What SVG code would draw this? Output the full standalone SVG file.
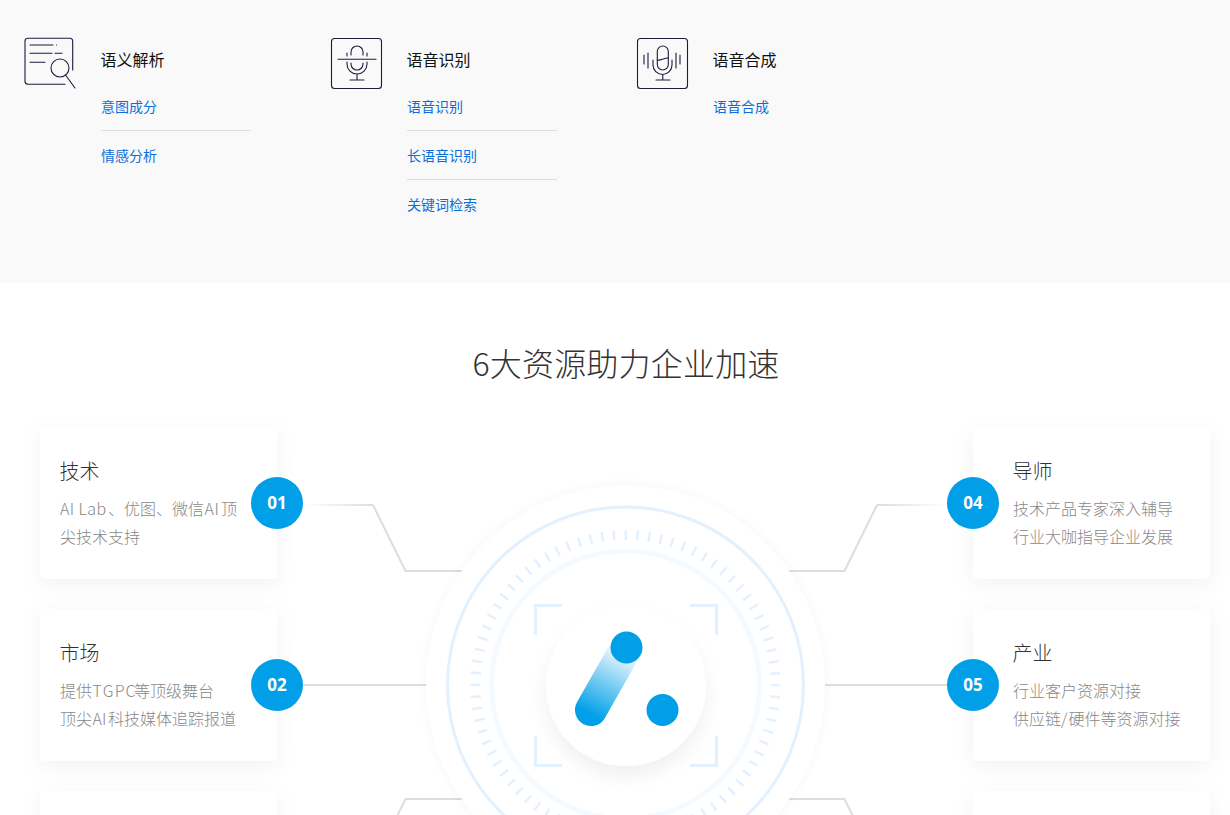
<svg xmlns="http://www.w3.org/2000/svg" width="1230" height="815" viewBox="0 0 1230 815">
<style>
text{font-family:"Noto Sans CJK SC","Noto Sans",sans-serif}
.h{font-size:16px;fill:#111}
.l{font-size:14px;fill:#0b6fdb}
.sep{stroke:#ddd;stroke-width:1;fill:none}
.i{fill:none;stroke:#1c1c3c;stroke-width:1.1;stroke-linecap:round}
.ct{font-size:20px;fill:#333;font-weight:300}
.cd{font-size:16px;fill:#888;font-weight:300}
.card{fill:#fff;filter:url(#cs)}
.num{fill:#009fe8}
.nt{font-family:"Open Sans","Noto Sans",sans-serif;font-size:17px;font-weight:700;fill:#fff;text-anchor:middle}
.cn{fill:none;stroke:#ddd;stroke-width:2}
.br{fill:none;stroke:#e3f1fe;stroke-width:3}
</style>
<defs>
<filter id="cs" x="-20%" y="-20%" width="140%" height="150%"><feDropShadow dx="0" dy="5" stdDeviation="10" flood-color="#000" flood-opacity=".05"/></filter>
<filter id="ds" x="-20%" y="-20%" width="140%" height="140%"><feDropShadow dx="0" dy="0" stdDeviation="5" flood-color="#000" flood-opacity=".04"/></filter>
<filter id="ms" x="-30%" y="-30%" width="160%" height="170%"><feDropShadow dx="0" dy="10" stdDeviation="9" flood-color="#000" flood-opacity=".06"/></filter>
<linearGradient id="gl" gradientUnits="userSpaceOnUse" x1="303" y1="0" x2="373" y2="0"><stop offset="0" stop-color="#ddd" stop-opacity="0"/><stop offset="1" stop-color="#ddd"/></linearGradient>
<linearGradient id="gr" gradientUnits="userSpaceOnUse" x1="947" y1="0" x2="877" y2="0"><stop offset="0" stop-color="#ddd" stop-opacity="0"/><stop offset="1" stop-color="#ddd"/></linearGradient>
<linearGradient id="gp" gradientUnits="userSpaceOnUse" x1="591" y1="715" x2="626" y2="648"><stop offset="0" stop-color="#009fe8"/><stop offset="1" stop-color="#009fe8" stop-opacity="0"/></linearGradient>
</defs>
<rect width="1230" height="815" fill="#fff"/>
<rect id="band" width="1230" height="283" fill="#f9f9f9"/>

<g id="semantic">
<path class="i" d="M65 84.300H28a3 3 0 0 1-3-3V41.300a3 3 0 0 1 3-3H69.700a3 3 0 0 1 3 3V70"/>
<path class="i" d="M30 45H53M56.500 45h.1M30 53.300H52M55 53.300h7M30 62.300H45"/>
<circle class="i" cx="60" cy="68" r="9"/>
<path class="i" d="M65.500 75L75 88"/>
<text class="h" x="100.500" y="66">语义解析</text>
<text class="l" x="101" y="112">意图成分</text>
<path class="sep" d="M101 130.500H251"/>
<text class="l" x="101" y="161">情感分析</text>
</g>

<g id="speech">
<rect class="i" x="331.500" y="38.500" width="50" height="50" rx="3"/>
<path class="i" d="M338 59.300H376"/>
<path class="i" d="M351 55V52a6 6 0 0 1 12 0V55M351 63V64a6 6 0 0 0 12 0V63"/>
<path class="i" d="M347 53V56M367 53V56M347 62V64a10 10 0 0 0 20 0V62M357 74V80M350 80H364"/>
<text class="h" x="406.500" y="66">语音识别</text>
<text class="l" x="407" y="112">语音识别</text>
<path class="sep" d="M407 130.500H557"/>
<text class="l" x="407" y="161">长语音识别</text>
<path class="sep" d="M407 179.500H557"/>
<text class="l" x="407" y="210">关键词检索</text>
</g>

<g id="synth">
<rect class="i" x="637.500" y="38.500" width="50" height="50" rx="3"/>
<rect class="i" x="657.300" y="46" width="11" height="24" rx="5.500"/>
<path class="i" d="M657.300 60C661 61 663 58 668.300 58"/>
<path class="i" d="M653 60V65a9.500 9.500 0 0 0 19 0V60M662.800 74.500V80M656 80H670"/>
<path class="i" d="M644 55V64M648 53V68M676 53V68M680 55V64"/>
<text class="h" x="712.500" y="66">语音合成</text>
<text class="l" x="713" y="112">语音合成</text>
</g>

<text id="title" x="626" y="376" font-size="32" fill="#333" font-weight="300" text-anchor="middle" letter-spacing=".2">6大资源助力企业加速</text>

<g id="connectors">
<path d="M303 505H373" fill="none" stroke="url(#gl)" stroke-width="2"/>
<path class="cn" d="M373 505L405.500 571H470"/>
<path class="cn" d="M303 685H430"/>
<path class="cn" d="M470 799H405.500L373 865"/>
<path d="M947 505H877" fill="none" stroke="url(#gr)" stroke-width="2"/>
<path class="cn" d="M877 505L844.500 571H780"/>
<path class="cn" d="M947 685H820"/>
<path class="cn" d="M780 799H844.500L877 865"/>
</g>

<g id="hub">
<circle cx="625.500" cy="685" r="199.500" fill="#fff" filter="url(#ds)"/>
<circle cx="625.500" cy="685" r="178" fill="none" stroke="#e3f1fe" stroke-width="3"/>
<circle cx="625.500" cy="685" r="150" fill="none" stroke="#e3f1fe" stroke-width="10" stroke-dasharray="2.500 9.281" stroke-dashoffset="1.250"/>
<circle cx="625.500" cy="685" r="134" fill="none" stroke="#f5faff" stroke-width="5"/>
<circle cx="626" cy="686" r="80" fill="#fff" filter="url(#ms)"/>
<path class="br" d="M562 605.500H535.500V635M690 605.500H716.500V635M535.500 736V765.500H562M716.500 736V765.500H690"/>
<path d="M591 710L626.500 647.500" fill="none" stroke="url(#gp)" stroke-width="32" stroke-linecap="round"/>
<circle cx="626.500" cy="647.500" r="16" fill="#009fe8"/>
<circle cx="662.500" cy="710" r="16" fill="#009fe8"/>
</g>

<g id="card01">
<rect class="card" x="40" y="427" width="237" height="152" rx="5"/>
<text class="ct" x="59.500" y="479">技术</text>
<text class="cd" y="515"><tspan x="60" letter-spacing=".4">AI Lab</tspan><tspan x="108">、优图、微信</tspan><tspan x="204.500" letter-spacing=".5">AI</tspan><tspan x="221">顶</tspan></text>
<text class="cd" x="60" y="543">尖技术支持</text>
<circle class="num" cx="277" cy="503" r="26"/>
<text class="nt" x="277" y="509">01</text>
</g>
<g id="card02">
<rect class="card" x="40" y="609" width="237" height="152" rx="5"/>
<text class="ct" x="59.500" y="661">市场</text>
<text class="cd" y="697"><tspan x="60">提供</tspan><tspan x="92.500" letter-spacing="1.200">TGPC</tspan><tspan x="134">等顶级舞台</tspan></text>
<text class="cd" y="725"><tspan x="60">顶尖</tspan><tspan x="92.500">AI</tspan><tspan x="108">科技媒体追踪报道</tspan></text>
<circle class="num" cx="277" cy="685" r="26"/>
<text class="nt" x="277" y="691">02</text>
</g>
<g id="card03">
<rect class="card" x="40" y="791" width="237" height="152" rx="5"/>
</g>
<g id="card04">
<rect class="card" x="973" y="427" width="237" height="152" rx="5"/>
<text class="ct" x="1012.500" y="479">导师</text>
<text class="cd" x="1013" y="515">技术产品专家深入辅导</text>
<text class="cd" x="1013" y="543">行业大咖指导企业发展</text>
<circle class="num" cx="973" cy="503" r="26"/>
<text class="nt" x="973" y="509">04</text>
</g>
<g id="card05">
<rect class="card" x="973" y="609" width="237" height="152" rx="5"/>
<text class="ct" x="1012.500" y="661">产业</text>
<text class="cd" x="1013" y="697">行业客户资源对接</text>
<text class="cd" y="725"><tspan x="1013">供应链/</tspan><tspan x="1068.500">硬件等资源对接</tspan></text>
<circle class="num" cx="973" cy="685" r="26"/>
<text class="nt" x="973" y="691">05</text>
</g>
<g id="card06">
<rect class="card" x="973" y="791" width="237" height="152" rx="5"/>
</g>
</svg>
